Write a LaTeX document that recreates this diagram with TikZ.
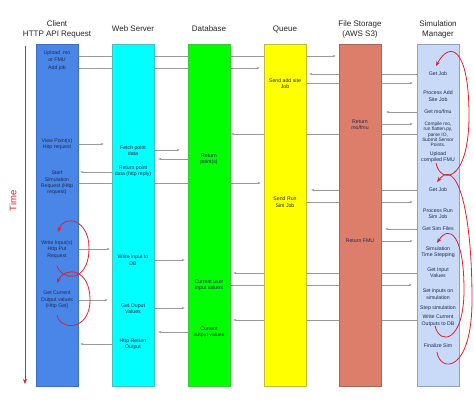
\documentclass[tikz,border=0pt]{standalone}
\usepackage{fontspec}
\setmainfont{Liberation Sans}
\usetikzlibrary{arrows.meta}
\pgfdeclarelayer{background}
\pgfsetlayers{background,main}
\definecolor{cClient}{HTML}{4A86E8}
\definecolor{cClientB}{HTML}{3C6FC4}
\definecolor{cWeb}{HTML}{00FFFF}
\definecolor{cWebB}{HTML}{45BFC0}
\definecolor{cDB}{HTML}{00FF00}
\definecolor{cDBB}{HTML}{3BC93B}
\definecolor{cQueue}{HTML}{FFFF00}
\definecolor{cQueueB}{HTML}{BDBD30}
\definecolor{cFile}{HTML}{DD7E6B}
\definecolor{cFileB}{HTML}{A86556}
\definecolor{cSim}{HTML}{C9DAF8}
\definecolor{cSimB}{HTML}{8FA0C0}
\definecolor{cText}{HTML}{1B2C4E}
\definecolor{cLine}{HTML}{9A9A9A}
\definecolor{cRed}{HTML}{E0202E}
\begin{document}
\begin{tikzpicture}[x=1pt,y=-1pt,
  colbox/.style={minimum width=42pt, minimum height=342pt, inner sep=0pt, line width=0.6pt},
  hdr/.style={align=center, text=black!85, font=\fontsize{8}{10}\selectfont, inner sep=0pt},
  lbl/.style={align=center, text=cText, font=\fontsize{5.2}{6.4}\selectfont, inner sep=0pt},
  conn/.style={draw=cLine, line width=0.5pt, -{Stealth[length=3pt,width=2.4pt]}},
  redloop/.style={draw=cRed, line width=0.8pt, -{Stealth[length=5pt,width=4pt]}}]
\useasboundingbox (0,0) rectangle (474,401);

% columns
\node[colbox, fill=cClient, draw=cClientB] (client) at (57,215) {};
\node[colbox, fill=cWeb, draw=cWebB] (web) at (133,215) {};
\node[colbox, fill=cDB, draw=cDBB] (db) at (209,215) {};
\node[colbox, fill=cQueue, draw=cQueueB] (queue) at (285,215) {};
\node[colbox, fill=cFile, draw=cFileB] (files) at (360,215) {};
\node[colbox, fill=cSim, draw=cSimB] (sim) at (438,215) {};

% headers
\node[hdr] (hclient) at (57,29) {Client\\HTTP API Request};
\node[hdr] (hweb) at (133,29) {Web Server};
\node[hdr] (hdb) at (209,29) {Database};
\node[hdr] (hqueue) at (285,29) {Queue};
\node[hdr] (hfiles) at (360,29) {File Storage\\(AWS S3)};
\node[hdr] (hsim) at (438,29) {Simulation\\Manager};

% time axis
\coordinate (t0) at (25,46);
\coordinate (t1) at (25,384);
\draw[redloop] (t0) -- (t1);
\node[rotate=90, text=cRed, font=\fontsize{9.5}{11}\selectfont] (timelbl) at (13,201) {Time};

% client texts
\node[lbl] (c1) at (57,56) {Upload .mo\\or FMU};
\node[lbl] (c2) at (57,68) {Add job};
\node[lbl] (c3) at (57,144) {View Point(s)\\Http request};
\node[lbl] (c4) at (57,183) {Start\\Simulation\\Request (Http\\request)};
\node[lbl] (c5) at (57,249.5) {Write Input(s)\\Http Put\\Request};
\node[lbl] (c6) at (57,300) {Get Current\\Output values\\(Http Get)};

% web texts
\node[lbl] (w1) at (133,150.5) {Fetch point\\data};
\node[lbl] (w2) at (133,171) {Return point\\data (http reply)};
\node[lbl] (w3) at (133,260) {Write input to\\DB};
\node[lbl] (w4) at (133,309) {Get Ouput\\Values};
\node[lbl] (w5) at (133,344.5) {Http Return\\Output};

% db texts
\node[lbl] (d1) at (209,159.5) {Return\\point(s)};
\node[lbl] (d2) at (209,285.5) {Current user\\input values};
\node[lbl] (d3) at (209,332.5) {Current\\output values};

% queue texts
\node[lbl] (q1) at (285,83.5) {Send add site\\Job};
\node[lbl] (q2) at (285,202) {Send Run\\Sim Job};

% file texts
\node[lbl] (f1) at (360,124.5) {Return\\mo/fmu};
\node[lbl] (f2) at (360,241) {Return FMU};

% sim texts
\node[lbl] (s1) at (438,74) {Get Job};
\node[lbl] (s2) at (438,96) {Process Add\\Site Job};
\node[lbl] (s3) at (438,112) {Get mo/fmu};
\node[lbl, font=\fontsize{4.8}{5.3}\selectfont] (s4) at (438,134.5) {Compile mo,\\run flatten.py,\\parse IO,\\Submit Sensor\\Points.};
\node[lbl] (s5) at (438,157) {Upload\\compiled FMU};
\node[lbl] (s6) at (438,190) {Get Job};
\node[lbl] (s7) at (438,214) {Process Run\\Sim Job};
\node[lbl] (s8) at (438,229) {Get Sim Files};
\node[lbl] (s9) at (438,252) {Simulation\\Time Stepping};
\node[lbl] (s10) at (438,273) {Get Input\\Values};
\node[lbl] (s11) at (438,294) {Set inputs on\\simulation};
\node[lbl] (s12) at (438,308) {Step simulation};
\node[lbl] (s13) at (438,320.5) {Write Current\\Outputs to DB};
\node[lbl] (s14) at (438,346) {Finalize Sim};

% connectors (behind columns)
\begin{pgfonlayer}{background}
\fill[white] (0,0) rectangle (474,401);
\draw[conn, shorten >=3pt] (client.east |- 0,56) -- (files.west |- 0,56);
\draw[conn, shorten >=4pt] (client.east |- 0,68) -- (queue.west |- 0,68);
\draw[conn, shorten >=3pt] (sim.west |- 0,74) -- (queue.east |- 0,74);
\draw[conn, shorten >=4pt] (queue.east |- 0,83) -- (sim.west |- 0,83);
\draw[conn, shorten >=5pt] (sim.west |- 0,112) -- (files.east |- 0,112);
\draw[conn, shorten >=4pt] (files.east |- 0,124) -- (sim.west |- 0,124);
\draw[conn, shorten >=1pt] (sim.west |- 0,134) -- (db.east |- 0,134);
\draw[conn, shorten >=8pt] (client.east |- 0,144) -- (web.west |- 0,144);
\draw[conn, shorten >=8pt] (web.east |- 0,150) -- (db.west |- 0,150);
\draw[conn, shorten >=4pt] (db.west |- 0,159) -- (web.east |- 0,159);
\draw[conn, shorten >=2pt] (web.west |- 0,172) -- (client.east |- 0,172);
\draw[conn, shorten >=3pt] (client.east |- 0,183) -- (queue.west |- 0,183);
\draw[conn, shorten >=5pt] (sim.west |- 0,190) -- (queue.east |- 0,190);
\draw[conn, shorten >=4pt] (queue.east |- 0,202) -- (sim.west |- 0,202);
\draw[conn, shorten >=4pt] (sim.west |- 0,229) -- (files.east |- 0,229);
\draw[conn, shorten >=4pt] (files.east |- 0,241) -- (sim.west |- 0,241);
\draw[conn, shorten >=2pt] (client.east |- 0,249) -- (web.west |- 0,249);
\draw[conn, shorten >=3pt] (web.east |- 0,260) -- (db.west |- 0,260);
\draw[conn, shorten >=3pt] (sim.west |- 0,273) -- (db.east |- 0,273);
\draw[conn, shorten >=5pt] (db.east |- 0,285) -- (sim.west |- 0,285);
\draw[conn, shorten >=4pt] (client.east |- 0,300) -- (web.west |- 0,300);
\draw[conn, shorten >=3pt] (web.east |- 0,308) -- (db.west |- 0,308);
\draw[conn, shorten >=3pt] (sim.west |- 0,320) -- (db.east |- 0,320);
\draw[conn, shorten >=4pt] (db.west |- 0,332) -- (web.east |- 0,332);
\draw[conn, shorten >=2pt] (web.west |- 0,344) -- (client.east |- 0,344);
\end{pgfonlayer}

% red loops
\coordinate (la0) at (436,163); \coordinate (la1) at (436,66);
\draw[redloop] (la0) .. controls (440,184) and (469,184) .. (469,115) .. controls (469,48) and (450,40) .. (la1);
\coordinate (lb0) at (437,352); \coordinate (lb1) at (437,182);
\draw[redloop] (lb0) .. controls (440,373) and (472,373) .. (472,300) .. controls (472,205) and (456,158) .. (lb1);
\coordinate (lc0) at (435,326); \coordinate (lc1) at (437,243);
\draw[redloop] (lc0) .. controls (440,346) and (464,342) .. (464,290) .. controls (464,234) and (449,224) .. (lc1);
\coordinate (ld0) at (57,266); \coordinate (ld1) at (58,232);
\draw[redloop] (ld0) .. controls (62,281) and (89,283) .. (89,248) .. controls (89,219) and (64,214) .. (ld1);
\coordinate (le0) at (57,315); \coordinate (le1) at (57,283);
\draw[redloop] (le0) .. controls (60,331) and (90,331) .. (90,300) .. controls (90,268) and (65,266) .. (le1);
\end{tikzpicture}
\end{document}
